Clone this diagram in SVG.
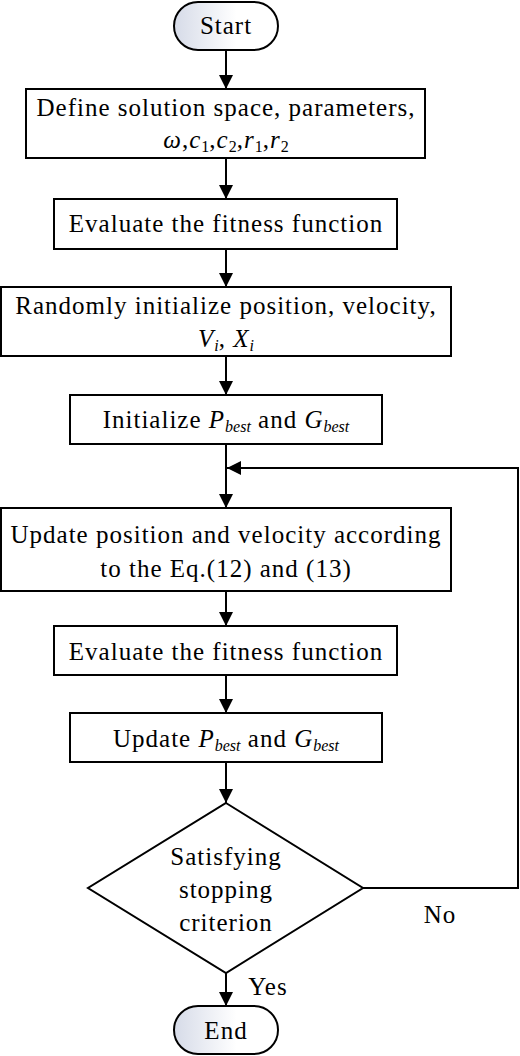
<svg xmlns="http://www.w3.org/2000/svg" width="520" height="1056" viewBox="0 0 520 1056">
<style>
.box{fill:#fff;stroke:#000;stroke-width:2}
.term{fill:url(#tg);stroke:#000;stroke-width:2}
.t{font-family:"Liberation Serif","Times New Roman",serif;font-size:25px;letter-spacing:1px;fill:#000;text-anchor:middle}
.i{font-style:italic}
.s{font-size:16px;letter-spacing:0}
.c{fill:none;stroke:#000;stroke-width:2}
</style>
<defs>
<linearGradient id="tg" x1="0" y1="0" x2="1" y2="0">
<stop offset="0" stop-color="#d6dbe8"/>
<stop offset="0.6" stop-color="#ffffff"/>
</linearGradient>
<marker id="ah" markerWidth="14" markerHeight="14" viewBox="0 0 14 14" refX="14" refY="7" orient="auto" markerUnits="userSpaceOnUse">
<path d="M0,0 L14,7 L0,14 Z" fill="#000"/>
</marker>
</defs>
<g id="connectors">
<line class="c" x1="226" y1="50" x2="226" y2="89" marker-end="url(#ah)"/>
<line class="c" x1="226" y1="158" x2="226" y2="199" marker-end="url(#ah)"/>
<line class="c" x1="226" y1="249" x2="226" y2="287" marker-end="url(#ah)"/>
<line class="c" x1="226" y1="356" x2="226" y2="395" marker-end="url(#ah)"/>
<line class="c" x1="226" y1="444" x2="226" y2="508" marker-end="url(#ah)"/>
<line class="c" x1="226" y1="591" x2="226" y2="626" marker-end="url(#ah)"/>
<line class="c" x1="226" y1="675" x2="226" y2="713" marker-end="url(#ah)"/>
<line class="c" x1="226" y1="762" x2="226" y2="803" marker-end="url(#ah)"/>
<line class="c" x1="226" y1="973" x2="226" y2="1006" marker-end="url(#ah)"/>
<polyline class="c" points="363,888 518,888 518,468 227,468" marker-end="url(#ah)"/>
<text class="t" x="440" y="923">No</text>
<text class="t" x="268" y="995">Yes</text>
</g>
<g id="start">
<rect class="term" x="174" y="2" width="104" height="48" rx="24"/>
<text class="t" x="226" y="34">Start</text>
</g>
<g id="define">
<rect class="box" x="26" y="89" width="399" height="69"/>
<text class="t" x="226" y="116">Define solution space, parameters,</text>
<text class="t" x="226" y="148"><tspan class="i">ω</tspan>,<tspan class="i">c</tspan><tspan class="s" dy="4">1</tspan><tspan dy="-4">,</tspan><tspan class="i">c</tspan><tspan class="s" dy="4">2</tspan><tspan dy="-4">,</tspan><tspan class="i">r</tspan><tspan class="s" dy="4">1</tspan><tspan dy="-4">,</tspan><tspan class="i">r</tspan><tspan class="s" dy="4">2</tspan></text>
</g>
<g id="eval1">
<rect class="box" x="54" y="199" width="343" height="50"/>
<text class="t" x="226" y="232">Evaluate the fitness function</text>
</g>
<g id="init">
<rect class="box" x="1" y="287" width="450" height="69"/>
<text class="t" x="226" y="314">Randomly initialize position, velocity,</text>
<text class="t" x="226" y="347"><tspan class="i">V</tspan><tspan class="i s" dy="4">i</tspan><tspan dy="-4">, </tspan><tspan class="i">X</tspan><tspan class="i s" dy="4">i</tspan></text>
</g>
<g id="initbest">
<rect class="box" x="70" y="395" width="312" height="49"/>
<text class="t" x="226" y="428">Initialize <tspan class="i">P</tspan><tspan class="i s" dy="4">best</tspan><tspan dy="-4"> and </tspan><tspan class="i">G</tspan><tspan class="i s" dy="4">best</tspan></text>
</g>
<g id="update">
<rect class="box" x="1" y="508" width="450" height="83"/>
<text class="t" x="226" y="543">Update position and velocity according</text>
<text class="t" x="226" y="577">to the Eq.(12) and (13)</text>
</g>
<g id="eval2">
<rect class="box" x="54" y="626" width="343" height="49"/>
<text class="t" x="226" y="660">Evaluate the fitness function</text>
</g>
<g id="updatebest">
<rect class="box" x="70" y="713" width="312" height="49"/>
<text class="t" x="226" y="747">Update <tspan class="i">P</tspan><tspan class="i s" dy="4">best</tspan><tspan dy="-4"> and </tspan><tspan class="i">G</tspan><tspan class="i s" dy="4">best</tspan></text>
</g>
<g id="decision">
<polygon class="box" points="226,803 363,888 226,973 88,888"/>
<text class="t" x="226" y="865">Satisfying</text>
<text class="t" x="226" y="898">stopping</text>
<text class="t" x="226" y="931">criterion</text>
</g>
<g id="end">
<rect class="term" x="174" y="1006" width="104" height="48" rx="24"/>
<text class="t" x="226" y="1039">End</text>
</g>
</svg>
